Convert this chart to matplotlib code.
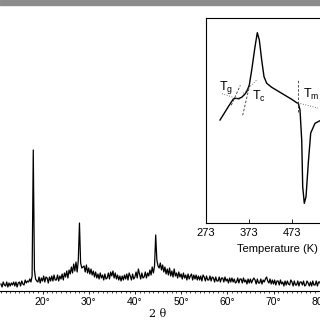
import numpy as np
import matplotlib
matplotlib.use("Agg")
import matplotlib.pyplot as plt
from matplotlib.patches import Rectangle

plt.rcParams["font.family"] = ["Liberation Sans", "DejaVu Sans"]
plt.rcParams["mathtext.default"] = "regular"

# XRD pattern: 2theta from 11.0 to 81.0 in 0.25 deg steps, intensity (a.u.)
two_theta_start = 11.0
two_theta_step = 0.25
xrd_intensity = [
    7, 4, 9, 6,  5, 9, 4, 8,  5, 8, 6, 9,  5, 9, 4, 8,          # 11-14
    9, 5, 10, 7,  6, 11, 8, 10,  9, 12, 9, 15,                   # 15-17
    141, 21, 12, 10,  9, 14, 8, 13,  10, 15, 9, 14,              # 18-20
    13, 8, 14, 10,  15, 10, 16, 11,  11, 16, 10, 15,             # 21-23
    12, 17, 11, 18,  14, 20, 13, 21,  17, 24, 18, 27,            # 24-26
    20, 29, 19, 31,  68, 28, 23, 24,  25, 19, 26, 18,            # 27-29
    23, 17, 22, 16,  20, 14, 19, 13,  17, 12, 18, 13,            # 30-32
    16, 11, 17, 12,  13, 18, 12, 19,  15, 20, 13, 18,            # 33-35
    12, 16, 11, 15,  10, 15, 11, 16,  12, 17, 11, 18,            # 36-38
    15, 11, 17, 12,  14, 19, 13, 22,  17, 12, 18, 13,            # 39-41
    14, 19, 13, 18,  15, 21, 16, 24,  18, 25, 56, 31,            # 42-44
    25, 23, 28, 21,  26, 19, 24, 17,  22, 16, 23, 15,            # 45-47
    20, 14, 22, 15,  18, 13, 19, 14,  17, 12, 18, 13,            # 48-50
    16, 11, 17, 12,  15, 17, 11, 16,  12, 16, 11, 15,            # 51-53
    11, 15, 10, 16,  14, 10, 15, 11,  11, 15, 10, 14,            # 54-56
    13, 9, 14, 10,  10, 14, 9, 13,  13, 9, 14, 10,               # 57-59
    12, 8, 13, 9,  13, 9, 12, 8,  9, 13, 8, 12,                  # 60-62
    12, 8, 13, 9,  11, 7, 12, 8,  12, 8, 11, 13,                 # 63-65
    11, 7, 12, 8,  8, 12, 7, 11,  9, 12, 14, 10,                 # 66-68
    8, 12, 7, 11,  7, 11, 6, 10,  10, 6, 11, 7,                  # 69-71
    9, 5, 10, 6,  10, 7, 6, 11,  9, 5, 10, 6,                    # 72-74
    6, 10, 5, 9,  9, 6, 10, 5,  6, 10, 8, 5,                     # 75-77
    9, 5, 10, 6,  6, 10, 5, 9,  9, 6, 10, 5,  7,                 # 78-81
]
two_theta = two_theta_start + two_theta_step * np.arange(len(xrd_intensity))
main_ticks = [20, 30, 40, 50, 60, 70, 80]

# DSC inset: temperature (K) vs heat flow (a.u.)
dsc_temp = [305.6, 324.9, 336.5, 342.1, 348.1, 356.0, 363.7, 367.7, 373.7,
            379.3, 387.0, 392.3, 397.0, 402.5, 407.9, 414.2, 425.8, 449.0,
            472.3, 483.9, 487.7, 491.6, 495.6, 497.9, 501.6, 505.6, 510.9,
            516.5, 526.5, 538.1, 561.0, 585.0]
dsc_heat = [103, 116.3, 124, 124.7, 124.3, 125.7, 129, 131.3, 138,
            153, 176.3, 190.3, 183, 163, 146.3, 139.7, 135.7, 129.7,
            123.7, 120.3, 119.7, 113, 83, 36.3, 19.7, 26.3, 60,
            90, 99.7, 102.3, 103, 103]
inset_ticks = [273, 373, 473, 573]

# tangent construction lines (T, H) pairs
tangents_dashed = [([331.8, 352.8], [117.7, 137.7]),
                   ([358.3, 374.6], [107.7, 137.7]),
                   ([487.0, 487.0], [111, 143])]
tangents_dotted = [([310.2, 352.0], [129.3, 123.5]),
                   ([359.7, 390.9], [129.7, 143.0]),
                   ([487.0, 533.5], [120.0, 115.0])]

W = H = 320
fig = plt.figure(figsize=(3.2, 3.2), dpi=100)

# main XRD axes
ax = fig.add_axes([0, (H - 291) / H, 1, 291 / H])
ax.plot(two_theta, xrd_intensity, color="black", lw=0.9)
ax.set_xlim(10.8, 10.8 + 320 / 4.62)
ax.set_ylim(0, 291)
for s in ("left", "top", "right"):
    ax.spines[s].set_visible(False)
ax.spines["bottom"].set_linewidth(0.8)
ax.set_yticks([])
ax.set_xticks(main_ticks)
ax.set_xticklabels([f"{t}\u00b0" for t in main_ticks], fontsize=7.5)
ax.set_xticks(np.arange(11, 81, 1), minor=True)
ax.tick_params(axis="x", which="major", direction="out", length=2.5, width=0.6, pad=1.5)
ax.tick_params(axis="x", which="minor", direction="out", length=1.5, width=0.5)
fig.text(158 / W, 1 - 314 / H, "2 \u03b8", family="DejaVu Serif",
         fontsize=8, ha="center", va="center")

# DSC inset
ins = fig.add_axes([206 / W, (H - 223) / H, 134 / W, (223 - 17.5) / H])
ins.plot(dsc_temp, dsc_heat, color="black", lw=1.0)
for tx, ty in tangents_dashed:
    ins.plot(tx, ty, color="#333333", lw=0.6, ls=(0, (3, 2)))
for tx, ty in tangents_dotted:
    ins.plot(tx, ty, color="#444444", lw=0.6, ls=(0, (1, 2)))
ins.set_xlim(273, 273 + 134 / 0.43)
ins.set_ylim(0, 223 - 17.5)
ins.spines["right"].set_visible(False)
for s in ("left", "top", "bottom"):
    ins.spines[s].set_linewidth(0.8)
ins.set_yticks([])
ins.set_xticks(inset_ticks)
ins.set_xticklabels([str(t) for t in inset_ticks], fontsize=8)
ins.tick_params(axis="x", direction="in", length=3, width=0.6, pad=3.5)
ins.text(303.2, 133, r"$\mathregular{T_g}$", fontsize=9)
ins.text(380.0, 123, r"$\mathregular{T_c}$", fontsize=9)
ins.text(498.6, 125, r"$\mathregular{T_m}$", fontsize=9)
fig.text(277 / W, 1 - 249 / H, "Temperature (K)", fontsize=8,
         ha="center", va="center")

# gray strip at the top edge of the scan
fig.patches.append(Rectangle((0, 1 - 4.5 / H), 1, 4.5 / H, transform=fig.transFigure,
                             color="#8c8c8c", zorder=10))

fig.savefig("out.png", dpi=100)
